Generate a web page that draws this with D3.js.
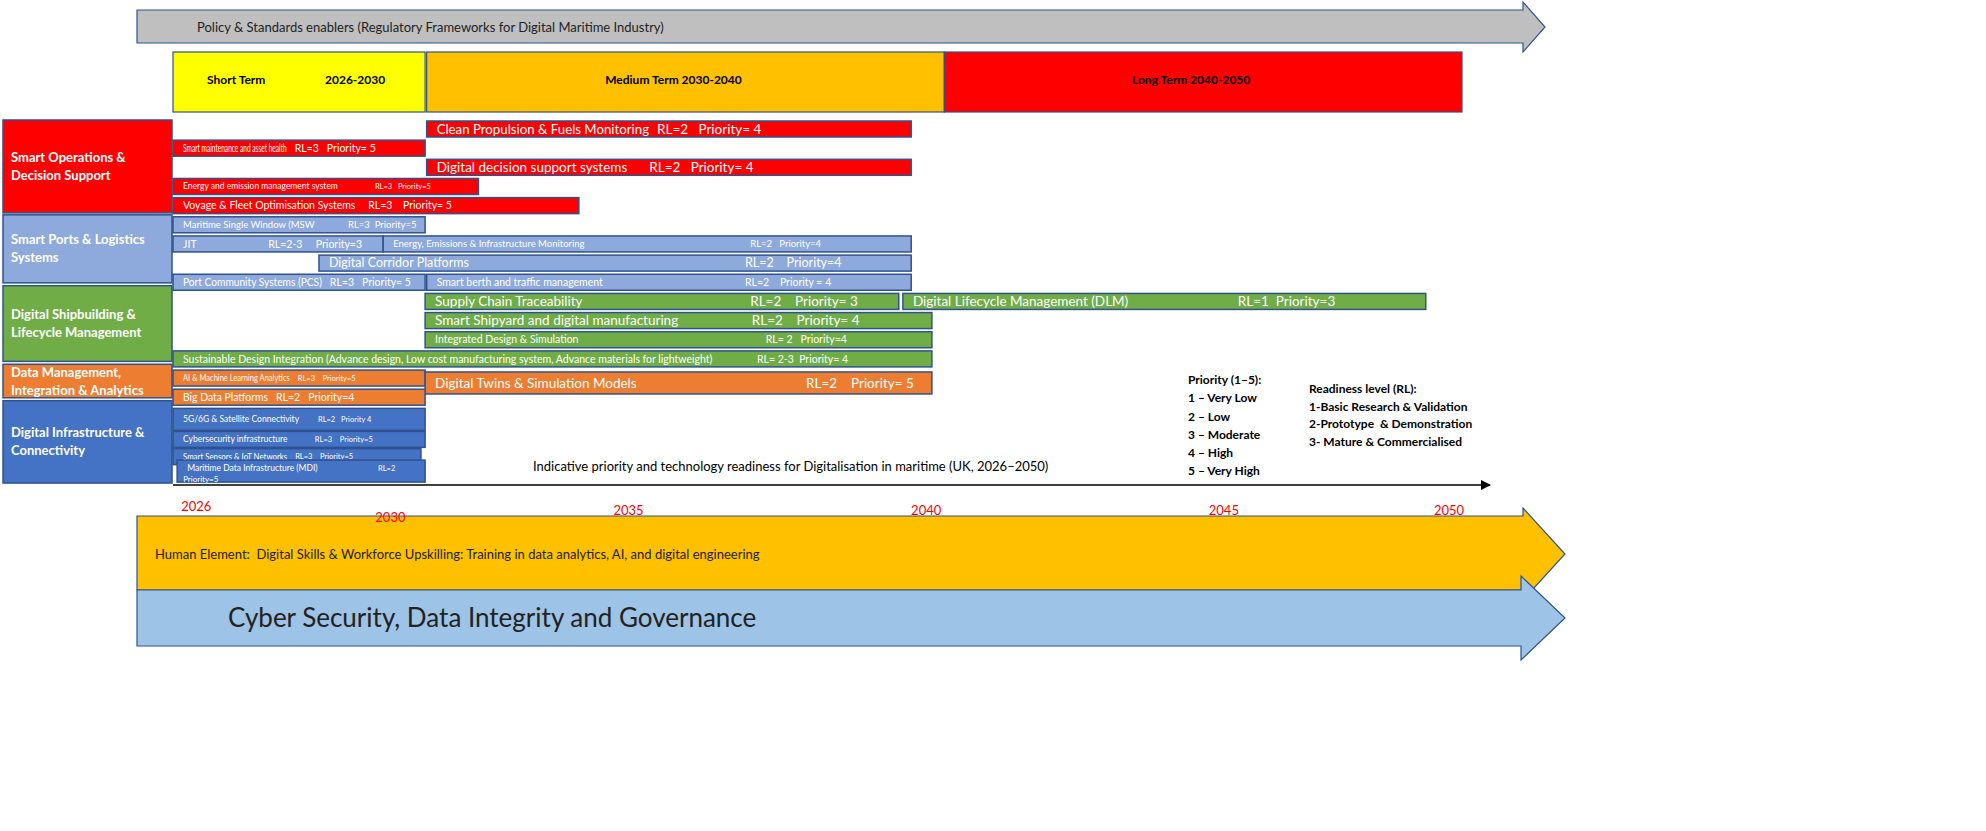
<!DOCTYPE html>
<html>
<head>
<meta charset="utf-8">
<script src="https://cdn.jsdelivr.net/npm/d3@7"></script>
<style>
  body { margin: 0; background: #fff; }
  text { font-family: Lato, "Open Sans", sans-serif; white-space: pre; }
</style>
</head>
<body>
<div id="chart"></div>
<script>
// roadmap data
const phases = [
  { name: 'Short Term', range: '2026-2030', start: 2025.1, end: 2029.97, color: '#FFFF00' },
  { name: 'Medium Term 2030-2040', range: '', start: 2030.0, end: 2040.0, color: '#FFC000' },
  { name: 'Long Term 2040-2050', range: '', start: 2040.0, end: 2050.0, color: '#FF0000' }
];

const categories = [
  { lines: ['Smart Operations &', 'Decision Support'], row0: 0, row1: 4.85, color: '#FF0000' },
  { lines: ['Smart Ports & Logistics', 'Systems'], row0: 4.95, row1: 8.5, color: '#8EA9DB' },
  { lines: ['Digital Shipbuilding &', 'Lifecycle Management'], row0: 8.65, row1: 12.6, color: '#70AD47' },
  { lines: ['Data Management,', 'Integration & Analytics'], row0: 12.75, row1: 14.5, color: '#ED7D31' },
  { lines: ['Digital Infrastructure &', 'Connectivity'], row0: 14.65, row1: 18.95, color: '#4472C4' }
];

// row, start year, end year, label, RL/priority text, where that text starts, text size
const initiatives = [
  { row: 0, start: 2030.0, end: 2039.36, label: 'Clean Propulsion & Fuels Monitoring', rl: 'RL=2   Priority= 4', rlAt: 2034.45, size: 'l', cat: 0 },
  { row: 1, start: 2025.1, end: 2029.97, label: 'Smart maintenance and asset health', rl: 'RL=3   Priority= 5', rlAt: 2027.45, size: 'm', cat: 0 },
  { row: 2, start: 2030.0, end: 2039.36, label: 'Digital decision support systems', rl: 'RL=2   Priority= 4', rlAt: 2034.3, size: 'l', cat: 0 },
  { row: 3, start: 2025.1, end: 2031.0, label: 'Energy and emission management system', rl: 'RL=3   Priority=5', rlAt: 2029.0, size: 's', cat: 0 },
  { row: 4, start: 2025.1, end: 2032.94, label: 'Voyage & Fleet Optimisation Systems', rl: 'RL=3    Priority= 5', rlAt: 2028.87, size: 'm', cat: 0 },
  { row: 5, start: 2025.1, end: 2029.97, label: 'Maritime Single Window (MSW', rl: 'RL=3  Priority=5', rlAt: 2028.48, size: 'ms', cat: 1 },
  { row: 6, start: 2025.1, end: 2029.16, label: 'JIT', rl: 'RL=2-3     Priority=3', rlAt: 2026.94, size: 'm', cat: 1 },
  { row: 6, start: 2029.16, end: 2039.36, label: 'Energy, Emissions & Infrastructure Monitoring', rl: 'RL=2   Priority=4', rlAt: 2036.25, size: 'ms', cat: 1 },
  { row: 7, start: 2027.92, end: 2039.36, label: 'Digital Corridor Platforms', rl: 'RL=2    Priority=4', rlAt: 2036.15, size: 'ml', cat: 1 },
  { row: 8, start: 2025.1, end: 2029.97, label: 'Port Community Systems (PCS)', rl: 'RL=3   Priority= 5', rlAt: 2028.13, size: 'm', cat: 1 },
  { row: 8, start: 2030.0, end: 2039.36, label: 'Smart berth and traffic management', rl: 'RL=2    Priority = 4', rlAt: 2036.15, size: 'm', cat: 1 },
  { row: 9, start: 2029.97, end: 2039.12, label: 'Supply Chain Traceability', rl: 'RL=2    Priority= 3', rlAt: 2036.25, size: 'l', cat: 2 },
  { row: 9, start: 2039.2, end: 2049.3, label: 'Digital Lifecycle Management (DLM)', rl: 'RL=1  Priority=3', rlAt: 2045.67, size: 'l', cat: 2 },
  { row: 10, start: 2029.97, end: 2039.76, label: 'Smart Shipyard and digital manufacturing', rl: 'RL=2    Priority= 4', rlAt: 2036.28, size: 'l', cat: 2 },
  { row: 11, start: 2029.97, end: 2039.76, label: 'Integrated Design & Simulation', rl: 'RL= 2   Priority=4', rlAt: 2036.55, size: 'm', cat: 2 },
  { row: 12, start: 2025.1, end: 2039.76, label: 'Sustainable Design Integration (Advance design, Low cost manufacturing system, Advance materials for lightweight)', rl: 'RL= 2-3  Priority= 4', rlAt: 2036.38, size: 'm', cat: 2 },
  { row: 13, start: 2025.1, end: 2029.97, label: 'AI & Machine Learning Analytics', rl: 'RL=3    Priority=5', rlAt: 2027.51, size: 's', cat: 3 },
  { row: 13.1, start: 2029.97, end: 2039.76, label: 'Digital Twins & Simulation Models', rl: 'RL=2    Priority= 5', rlAt: 2037.33, size: 'l', cat: 3, tall: true },
  { row: 14, start: 2025.1, end: 2029.97, label: 'Big Data Platforms', rl: 'RL=2   Priority=4', rlAt: 2027.09, size: 'm', cat: 3 },
  { row: 15, start: 2025.1, end: 2029.97, label: '5G/6G & Satellite Connectivity', rl: 'RL=2   Priority 4', rlAt: 2027.9, size: 's', cat: 4, tall: true },
  { row: 16.2, start: 2025.1, end: 2029.97, label: 'Cybersecurity infrastructure', rl: 'RL=3    Priority=5', rlAt: 2027.84, size: 's', cat: 4 },
  { row: 17.1, start: 2025.1, end: 2029.89, label: 'Smart Sensors & IoT Networks', rl: 'RL=3    Priority=5', rlAt: 2027.46, size: 's', cat: 4 },
  { row: 17.7, start: 2025.18, end: 2029.97, label: 'Maritime Data Infrastructure (MDI)', rl: 'RL=2', rlAt: 2029.06, size: 's', cat: 4, tall: true, line2: 'Priority=5' }
];

const yearLabels = ['2026', '2030', '2035', '2040', '2045', '2050'];
const yearLabelAt = [2025.55, 2029.3, 2033.9, 2039.65, 2045.4, 2049.75];
const yearLabelDrop = [0, 11, 4, 4, 4, 4];

const priorityLegend = ['Priority (1–5):', '1 – Very Low', '2 – Low', '3 – Moderate', '4 – High', '5 – Very High'];
const readinessLegend = ['Readiness level (RL):', '1-Basic Research & Validation', '2-Prototype  & Demonstration', '3- Mature & Commercialised'];

const arrows = [
  { text: 'Policy & Standards enablers (Regulatory Frameworks for Digital Maritime Industry)', top: 10, bottom: 43, headTop: 2, headBottom: 52, tip: 1545, headStart: 1523, color: '#BFBFBF', size: 13, tx: 197 },
  { text: 'Human Element:  Digital Skills & Workforce Upskilling: Training in data analytics, AI, and digital engineering', top: 516, bottom: 590, headTop: 508, headBottom: 600, tip: 1565, headStart: 1523, color: '#FFC000', size: 13, tx: 155 },
  { text: 'Cyber Security, Data Integrity and Governance', top: 590, bottom: 646, headTop: 576, headBottom: 660, tip: 1565, headStart: 1521, color: '#9DC3E6', size: 26, tx: 228 }
];

const W = 1986, H = 831;
const svg = d3.select('#chart').append('svg').attr('width', W).attr('height', H);

const x = d3.scaleLinear().domain([2025.1, 2050]).range([173, 1462]);
const y = d3.scaleLinear().domain([0, 19]).range([120, 484]);
const sizes = { l: 13.5, ml: 12.5, m: 10.5, ms: 9.5, s: 8.5 };
const border = '#2F528F';

// band arrows
arrows.forEach(a => {
  const mid = (a.headTop + a.headBottom) / 2;
  const pts = [[137, a.top], [a.headStart, a.top], [a.headStart, a.headTop], [a.tip, mid],
    [a.headStart, a.headBottom], [a.headStart, a.bottom], [137, a.bottom]];
  svg.append('path').attr('d', d3.line()(pts) + 'Z')
    .attr('fill', a.color).attr('stroke', border).attr('stroke-width', 1.2);
  svg.append('text').attr('x', a.tx).attr('y', mid).attr('dy', '0.35em')
    .attr('font-size', a.size).attr('fill', '#222').text(a.text);
});

// phases
const ph = svg.append('g').selectAll('g').data(phases).join('g');
ph.append('rect')
  .attr('x', d => x(d.start)).attr('y', 52)
  .attr('width', d => x(d.end) - x(d.start)).attr('height', 60)
  .attr('fill', d => d.color).attr('stroke', border).attr('stroke-width', 1.2);
ph.each(function (d) {
  const g = d3.select(this);
  if (d.range) {
    g.append('text').attr('x', x(d.start) + 34).attr('y', 84).attr('font-size', 12).attr('font-weight', 'bold').text(d.name);
    g.append('text').attr('x', x(d.start) + 152).attr('y', 84).attr('font-size', 12).attr('font-weight', 'bold').text(d.range);
  } else {
    g.append('text').attr('x', (x(d.start) + x(d.end)) / 2 - 12).attr('y', 84).attr('text-anchor', 'middle')
      .attr('font-size', 12).attr('font-weight', 'bold').text(d.name);
  }
});

// categories
const cg = svg.append('g').selectAll('g').data(categories).join('g');
cg.append('rect')
  .attr('x', 3).attr('y', d => y(d.row0))
  .attr('width', 169).attr('height', d => y(d.row1) - y(d.row0))
  .attr('fill', d => d.color).attr('stroke', border).attr('stroke-width', 1.5);
cg.each(function (d) {
  const cy = (y(d.row0) + y(d.row1)) / 2;
  d3.select(this).selectAll('text').data(d.lines).join('text')
    .attr('x', 11).attr('y', (l, i) => cy + (i - (d.lines.length - 1) / 2) * 18)
    .attr('dy', '0.35em').attr('font-size', 13).attr('font-weight', 'bold').attr('fill', '#fff')
    .text(l => l);
});

// initiative bars
const bh = 16;
const bars = svg.append('g').selectAll('g').data(initiatives).join('g');
bars.append('rect')
  .attr('x', d => x(d.start)).attr('y', d => y(d.row) + 1)
  .attr('width', d => x(d.end) - x(d.start)).attr('height', d => d.tall ? 22 : bh)
  .attr('fill', d => categories[d.cat].color).attr('stroke', border).attr('stroke-width', 1.5);
bars.each(function (d) {
  const g = d3.select(this);
  const fs = sizes[d.size];
  const cy = y(d.row) + 1 + (d.tall && !d.line2 ? 11 : bh / 2);
  const x0 = x(d.start) + 10;
  const lab = g.append('text').attr('x', x0).attr('y', cy).attr('dy', '0.35em')
    .attr('font-size', fs).attr('fill', '#fff').text(d.label);
  // squeeze a label that would run into its RL text
  const room = x(d.rlAt) - 8 - x0;
  if (lab.node().getComputedTextLength() > room) {
    lab.attr('textLength', room).attr('lengthAdjust', 'spacingAndGlyphs');
  }
  g.append('text').attr('x', x(d.rlAt)).attr('y', cy).attr('dy', '0.35em')
    .attr('font-size', d.size === 's' ? 7.5 : fs).attr('fill', '#fff').text(d.rl);
  if (d.line2) {
    g.append('text').attr('x', x(d.start) + 6).attr('y', cy + 11).attr('dy', '0.35em')
      .attr('font-size', 8).attr('fill', '#fff').text(d.line2);
  }
});

// time axis
svg.append('defs').append('marker').attr('id', 'ah')
  .attr('viewBox', '0 0 10 10').attr('refX', 9).attr('refY', 5)
  .attr('markerWidth', 7).attr('markerHeight', 7).attr('orient', 'auto')
  .append('path').attr('d', 'M0,0L10,5L0,10Z').attr('fill', '#000');
svg.append('line').attr('x1', x(2025.1)).attr('x2', 1490).attr('y1', 485).attr('y2', 485)
  .attr('stroke', '#000').attr('stroke-width', 1.5).attr('marker-end', 'url(#ah)');
svg.append('text').attr('x', 533).attr('y', 466).attr('dy', '0.35em').attr('font-size', 13)
  .text('Indicative priority and technology readiness for Digitalisation in maritime (UK, 2026–2050)');
svg.append('g').selectAll('text').data(yearLabels).join('text')
  .attr('x', (d, i) => x(yearLabelAt[i])).attr('y', (d, i) => 506 + yearLabelDrop[i]).attr('dy', '0.35em')
  .attr('text-anchor', 'middle').attr('font-size', 13).attr('fill', '#FF0000').text(d => d);

// legends
svg.append('g').selectAll('text').data(priorityLegend).join('text')
  .attr('x', 1188).attr('y', (d, i) => 380 + i * 18.2).attr('dy', '0.35em')
  .attr('font-size', 12).attr('font-weight', 'bold').text(d => d);
svg.append('g').selectAll('text').data(readinessLegend).join('text')
  .attr('x', 1309).attr('y', (d, i) => 389 + i * 17.5).attr('dy', '0.35em')
  .attr('font-size', 12).attr('font-weight', 'bold').text(d => d);
</script>
</body>
</html>
